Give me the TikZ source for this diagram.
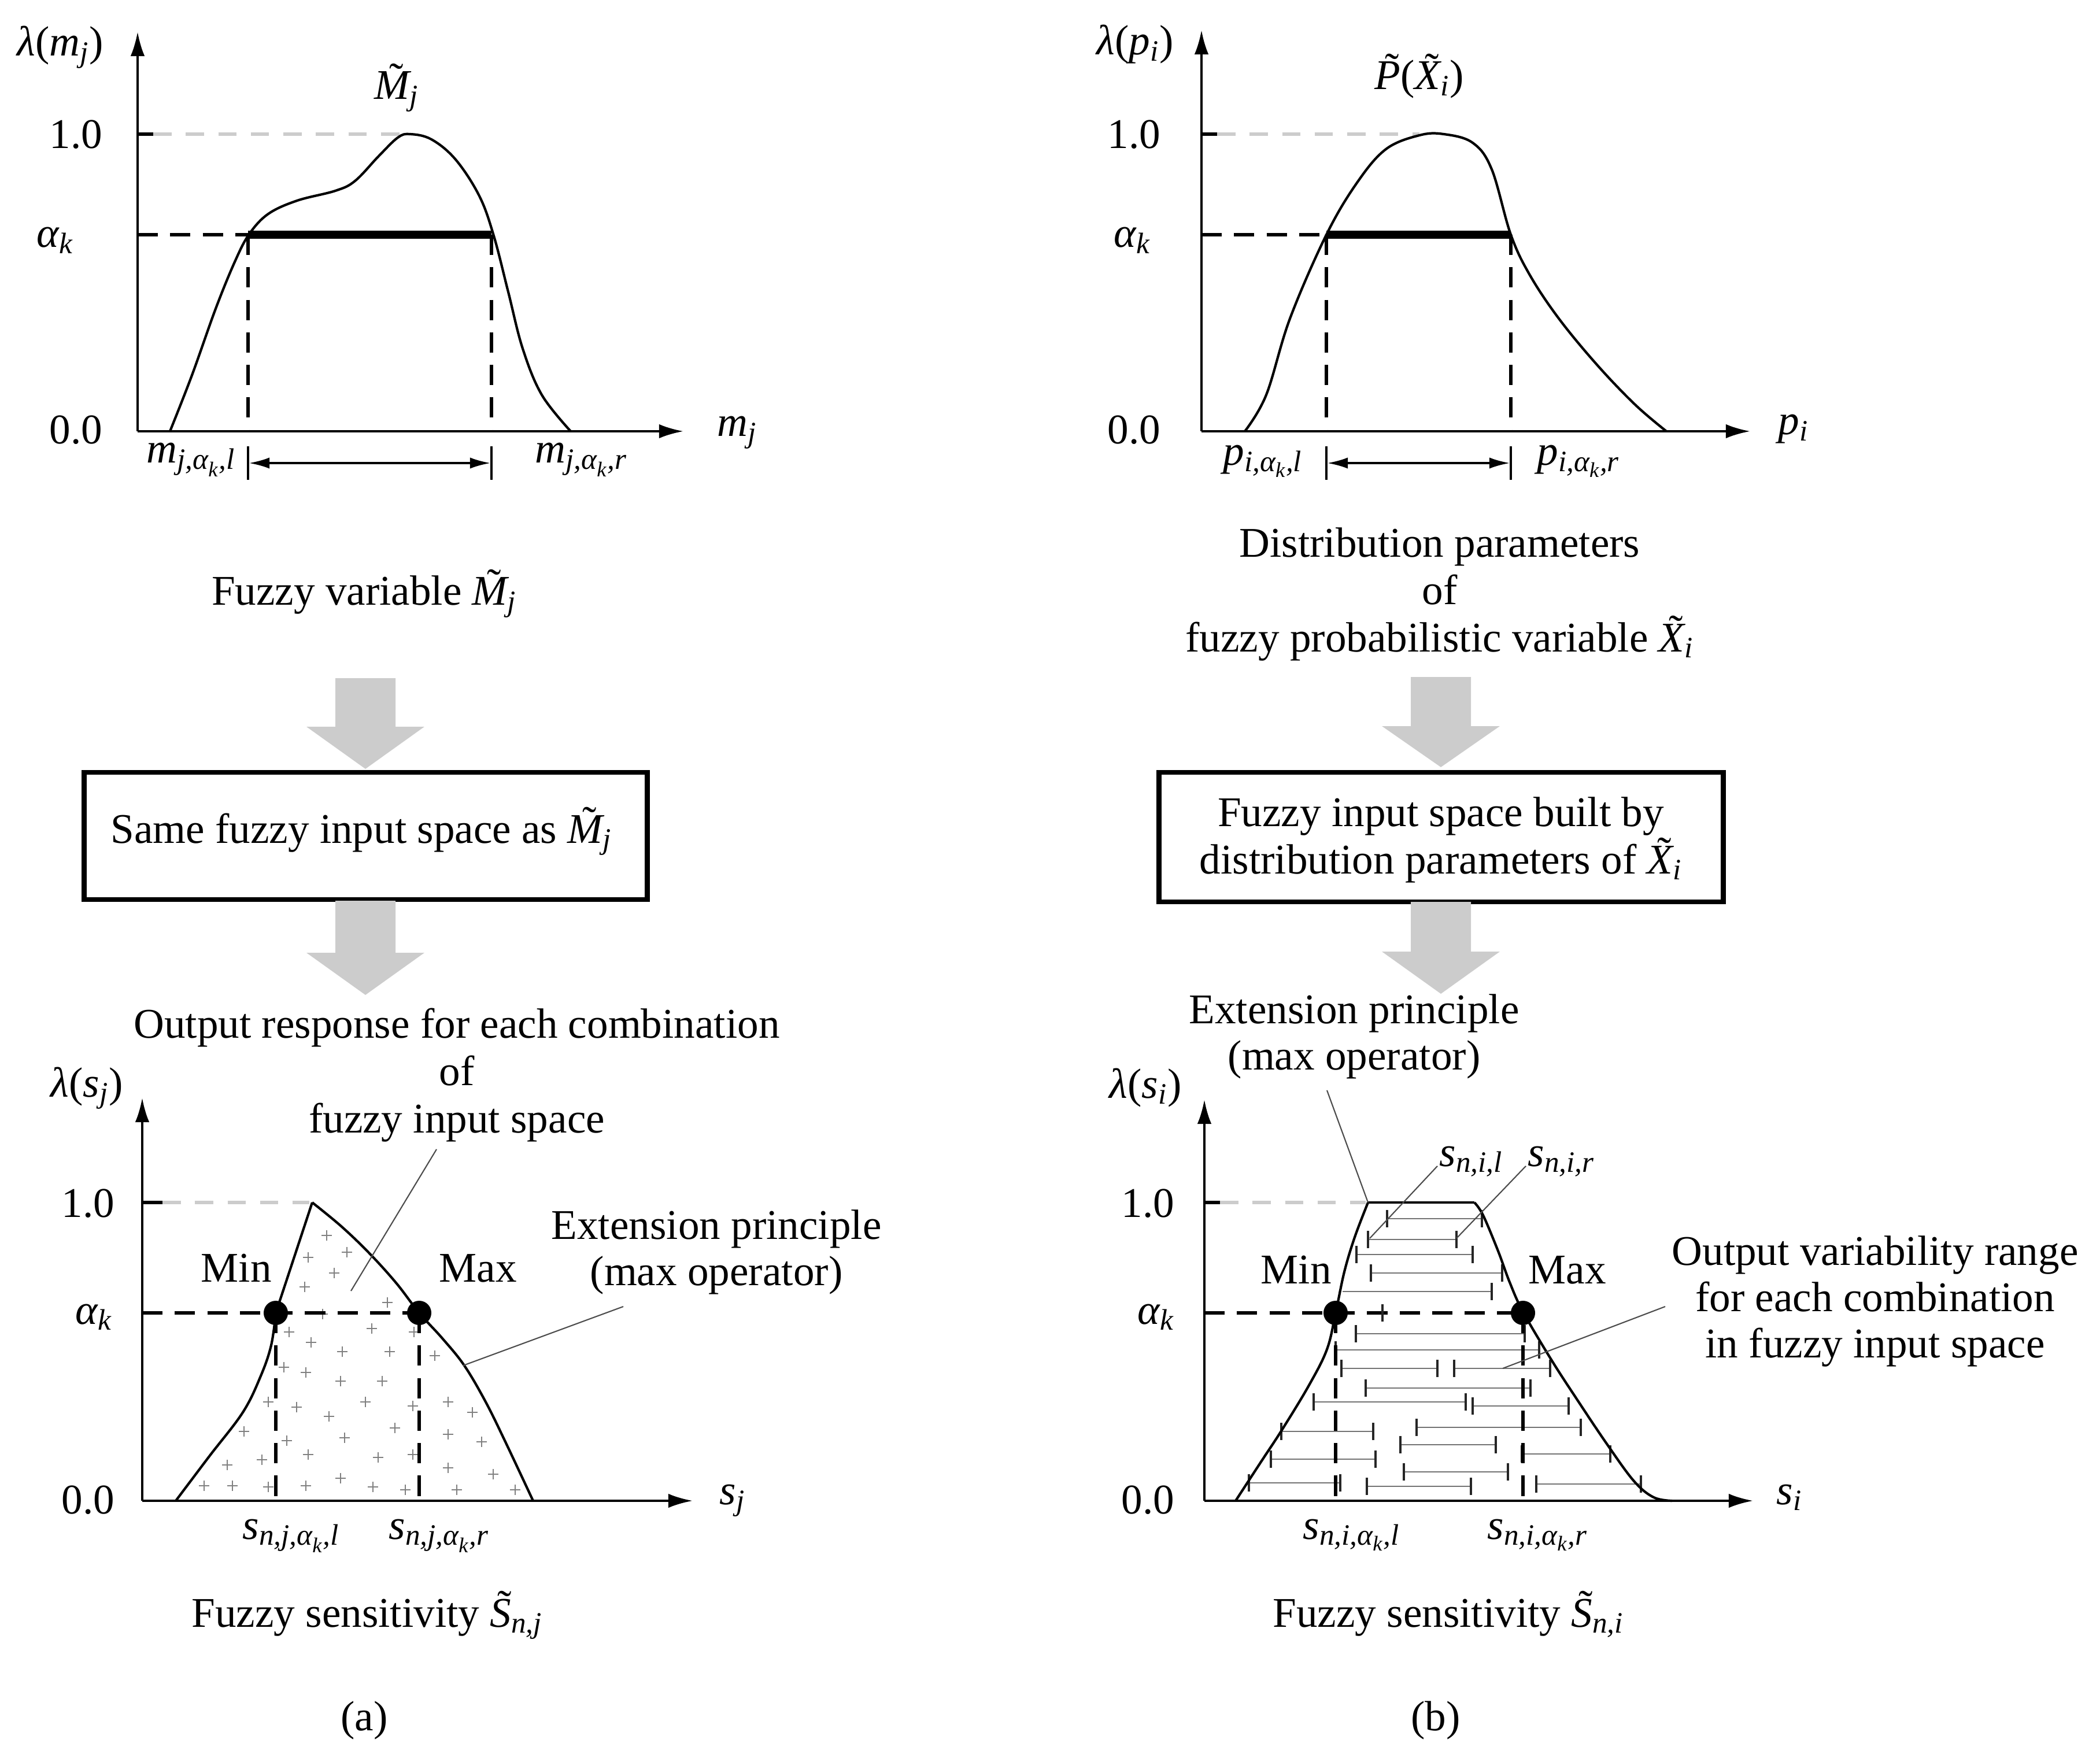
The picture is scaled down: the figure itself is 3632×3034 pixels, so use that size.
\documentclass[tikz,border=0pt]{standalone}
\usepackage{amsmath}
\usepackage{fontspec}
\setmainfont{Liberation Serif}
\usetikzlibrary{arrows.meta}
\newcommand\fs{\fontsize{20.8}{23.3}\selectfont}
\newcommand\iv[1]{\textit{#1}}
\newsavebox\tlbox
\newcommand\tl[1]{\sbox\tlbox{\itshape #1}\rlap{\hbox to \wd\tlbox{\hss\hspace{0.2em}\raisebox{0.17em}{\upshape ˜}\hss}}\usebox\tlbox}
\newcommand\bigarrow[4]{\fill[mygarrow] (#1-52,#2) -- (#1+52,#2) -- (#1+52,#3) -- (#1+102,#3) -- (#1,#4) -- (#1-102,#3) -- (#1-52,#3) -- cycle;}
\tikzset{
  lbl/.style={inner sep=0pt, font=\fs},
  myaxis/.style={line width=1.2pt, -{Latex[length=12pt,width=7pt]}},
  mycurve/.style={line width=1.2pt, line join=round},
  mycut/.style={line width=4pt},
  bdash/.style={line width=1.8pt, dash pattern=on 10pt off 6pt},
  gdash/.style={line width=1.7pt, black!20, dash pattern=on 9pt off 7pt},
  ytick/.style={line width=1.7pt},
  mydim/.style={line width=0.9pt, {Latex[length=10pt,width=5.5pt]}-{Latex[length=10pt,width=5.5pt]}},
  dimtick/.style={line width=0.9pt},
  mybox/.style={draw, line width=2.5pt, inner sep=0pt},
  mygarrow/.style={fill=black!20, draw=none},
  leader/.style={line width=0.6pt, black!70},
  ibar/.style={line width=0.7pt, black!55},
  itick/.style={line width=1pt, black!85},
  mydot/.style={fill=black},
  myplus/.style={line width=0.5pt, black!50},
}
\begin{document}
\begin{tikzpicture}[x=0.01cm,y=-0.01cm]
\useasboundingbox (0,0) rectangle (3632,3034);
\fill[white] (0,0) rectangle (3632,3034);

% ================= (a) top plot =================
\coordinate (tlO) at (238,746);
\draw[ytick] (238,232) -- (265,232);
\draw[gdash] (265,232) -- (700,232);
\draw[bdash] (238,406) -- (429,406);
\draw[bdash] (429,406) -- (429,746);
\draw[bdash] (850,406) -- (850,746);
\draw[mycurve] plot[smooth, tension=0.6] coordinates {(294,746) (332,649) (373,534) (406,453) (431,405) (464,370) (514,347) (580,330) (614,313) (655,270) (688,238) (709,232) (746,241) (788,276) (829,339) (854,408) (879,505) (904,603) (937,683) (987,746)};
\draw[mycut] (429,406) -- (850,406);
\draw[myaxis] (tlO) -- (238,55);
\draw[myaxis] (tlO) -- (1182,746);
\draw[dimtick] (429,772) -- (429,830);
\draw[dimtick] (850,772) -- (850,830);
\draw[mydim] (431,801) -- (848,801);
\node[lbl, anchor=base west] (tlYl) at (29,97) {\iv{λ}(\iv{m}$_{\iv{j}}$)};
\node[lbl, anchor=base west] (tlMj) at (647,172) {\tl{M}$_{\iv{j}}$};
\node[lbl, anchor=base east] (tl10) at (178,257) {1.0};
\node[lbl, anchor=base east] (tlak) at (128,428) {\iv{α}$_{\iv{k}}$};
\node[lbl, anchor=base east] (tl00) at (178,768) {0.0};
\node[lbl, anchor=base west] (tlXl) at (1240,755) {\iv{m}$_{\iv{j}}$};
\node[lbl, anchor=base west] (tlml) at (253,801) {\iv{m}$_{\iv{j,α}_{\iv{k}}\iv{,l}}$};
\node[lbl, anchor=base west] (tlmr) at (925,801) {\iv{m}$_{\iv{j,α}_{\iv{k}}\iv{,r}}$};
\node[lbl, anchor=base] (tlcap) at (630,1047) {Fuzzy variable \tl{M}$_{\iv{j}}$};

% ================= (a) flow =================
\bigarrow{632}{1173}{1257}{1330}
\node[mybox, minimum width=9.73cm, minimum height=2.2cm] (boxA) at (632.5,1446) {};
\node[lbl, anchor=base] (boxAt) at (625,1458) {Same fuzzy input space as \tl{M}$_{\iv{j}}$};
\bigarrow{632}{1558}{1648}{1721}
\node[lbl, anchor=base] (outA1) at (790,1795) {Output response for each combination};
\node[lbl, anchor=base] (outA2) at (790,1877) {of};
\node[lbl, anchor=base] (outA3) at (790,1959) {fuzzy input space};

% ================= (a) bottom plot =================
\coordinate (blO) at (246,2596);
\draw[ytick] (246,2080) -- (281,2080);
\draw[gdash] (281,2080) -- (535,2080);
\foreach \x/\y in {565/2137, 600/2166, 533/2175, 578/2202, 527/2226, 670/2253, 558/2273, 500/2304, 643/2298, 716/2304, 538/2322, 592/2338, 674/2338, 752/2345, 491/2365, 529/2374, 589/2389, 661/2389, 464/2425, 513/2434, 632/2425, 714/2432, 775/2425, 569/2450, 817/2443, 422/2476, 683/2470, 496/2492, 596/2487, 775/2481, 833/2494, 533/2516, 453/2525, 654/2521, 714/2516, 393/2534, 775/2539, 589/2557, 853/2550, 353/2570, 402/2570, 464/2572, 529/2570, 645/2572, 701/2577, 790/2577, 891/2577}
  {\draw[myplus] (\x-9,\y) -- (\x+9,\y) (\x,\y-9) -- (\x,\y+9);}
\draw[bdash] (246,2271) -- (725,2271);
\draw[bdash] (477,2271) -- (477,2596);
\draw[bdash] (725,2271) -- (725,2596);
\draw[mycurve] plot[smooth, tension=0.6] coordinates {(304,2596) (362,2519) (420,2443) (451,2380) (469,2327) (477,2271)};
\draw[mycurve] (477,2271) -- (540,2080);
\draw[mycurve] plot[smooth, tension=0.6] coordinates {(540,2080) (590,2121) (638,2167) (685,2219) (725,2271) (765,2315) (803,2362) (840,2425) (875,2496) (922,2596)};
\fill[mydot] (477,2271) circle[radius=0.21cm];
\fill[mydot] (725,2271) circle[radius=0.21cm];
\draw[myaxis] (blO) -- (246,1899);
\draw[myaxis] (blO) -- (1198,2596);
\node[lbl, anchor=base west] (blYl) at (87,1897) {\iv{λ}(\iv{s}$_{\iv{j}}$)};
\node[lbl, anchor=base east] (bl10) at (199,2105) {1.0};
\node[lbl, anchor=base east] (blak) at (195,2290) {\iv{α}$_{\iv{k}}$};
\node[lbl, anchor=base east] (bl00) at (199,2618) {0.0};
\node[lbl, anchor=base west] (blXl) at (1244,2602) {\iv{s}$_{\iv{j}}$};
\node[lbl, anchor=base west] (blMin) at (347,2217) {Min};
\node[lbl, anchor=base west] (blMax) at (759,2217) {Max};
\node[lbl, anchor=base west] (blsl) at (419,2662) {\iv{s}$_{\iv{n,j,α}_{\iv{k}}\iv{,l}}$};
\node[lbl, anchor=base west] (blsr) at (672,2662) {\iv{s}$_{\iv{n,j,α}_{\iv{k}}\iv{,r}}$};
\node[lbl, anchor=base] (blE1) at (1239,2143) {Extension principle};
\node[lbl, anchor=base] (blE2) at (1239,2223) {(max operator)};
\coordinate (blL1a) at (755,1988);
\coordinate (blL1b) at (607,2233);
\draw[leader] (blL1a) -- (blL1b);
\coordinate (blL2a) at (1078,2260);
\coordinate (blL2b) at (801,2362);
\draw[leader] (blL2a) -- (blL2b);
\node[lbl, anchor=base] (blcap) at (635,2814) {Fuzzy sensitivity \tl{S}$_{\iv{n,j}}$};
\node[lbl, anchor=base] (capa) at (630,2993) {(a)};

% ================= (b) top plot =================
\coordinate (trO) at (2078,746);
\draw[ytick] (2078,232) -- (2105,232);
\draw[gdash] (2105,232) -- (2455,232);
\draw[bdash] (2078,406) -- (2294,406);
\draw[bdash] (2294,406) -- (2294,746);
\draw[bdash] (2613,406) -- (2613,746);
\draw[mycurve] plot[smooth, tension=0.6] coordinates {(2153,746) (2190,683) (2231,551) (2294,406) (2347,316) (2397,258) (2455,234) (2497,232) (2547,247) (2580,293) (2613,406) (2646,476) (2696,551) (2762,631) (2828,700) (2882,746)};
\draw[mycut] (2294,406) -- (2613,406);
\draw[myaxis] (trO) -- (2078,52);
\draw[myaxis] (trO) -- (3027,746);
\draw[dimtick] (2294,772) -- (2294,830);
\draw[dimtick] (2613,772) -- (2613,830);
\draw[mydim] (2296,801) -- (2611,801);
\node[lbl, anchor=base west] (trYl) at (1896,95) {\iv{λ}(\iv{p}$_{\iv{i}}$)};
\node[lbl, anchor=base west] (trPX) at (2377,155) {\tl{P}(\tl{X}$_{\iv{i}}$)};
\node[lbl, anchor=base east] (tr10) at (2008,257) {1.0};
\node[lbl, anchor=base east] (trak) at (1991,428) {\iv{α}$_{\iv{k}}$};
\node[lbl, anchor=base east] (tr00) at (2008,768) {0.0};
\node[lbl, anchor=base west] (trXl) at (3075,752) {\iv{p}$_{\iv{i}}$};
\node[lbl, anchor=base west] (trpl) at (2115,805) {\iv{p}$_{\iv{i,α}_{\iv{k}}\iv{,l}}$};
\node[lbl, anchor=base west] (trpr) at (2658,805) {\iv{p}$_{\iv{i,α}_{\iv{k}}\iv{,r}}$};
\node[lbl, anchor=base] (trD1) at (2490,964) {Distribution parameters};
\node[lbl, anchor=base] (trD2) at (2490,1046) {of};
\node[lbl, anchor=base] (trD3) at (2490,1127) {fuzzy probabilistic variable \tl{X}$_{\iv{i}}$};

% ================= (b) flow =================
\bigarrow{2492}{1171}{1256}{1327}
\node[mybox, minimum width=9.75cm, minimum height=2.24cm] (boxB) at (2492.5,1448) {};
\node[lbl, anchor=base] (boxBt1) at (2492,1429) {Fuzzy input space built by};
\node[lbl, anchor=base] (boxBt2) at (2492,1511) {distribution parameters of \tl{X}$_{\iv{i}}$};
\bigarrow{2492}{1560}{1646}{1719}
\node[lbl, anchor=base] (brE1) at (2342,1770) {Extension principle};
\node[lbl, anchor=base] (brE2) at (2342,1850) {(max operator)};

% ================= (b) bottom plot =================
\coordinate (brO) at (2083,2596);
\draw[ytick] (2083,2080) -- (2110,2080);
\draw[gdash] (2110,2080) -- (2362,2080);
\foreach \y/\a/\b in {2108/2399/2563, 2144/2366/2519, 2170/2346/2547, 2202/2371/2598, 2307/2345/2637, 2335/2310/2662, 2367/2320/2486, 2367/2515/2681, 2401/2362/2647, 2425/2272/2535, 2432/2547/2713, 2469/2450/2734, 2476/2216/2375, 2499/2422/2587, 2515/2632/2785, 2524/2198/2379, 2546/2428/2608, 2565/2160/2318, 2571/2364/2544, 2567/2657/2838}
  {\draw[ibar] (\a,\y) -- (\b,\y);
   \draw[itick] (\a,\y-15) -- (\a,\y+15) (\b,\y-15) -- (\b,\y+15);}
\draw[ibar] (2322,2234) -- (2580,2234);
\draw[itick] (2580,2219) -- (2580,2249);
\draw[bdash] (2083,2271) -- (2634,2271);
\draw[itick] (2391,2256) -- (2391,2286);
\draw[bdash] (2310,2271) -- (2310,2596);
\draw[bdash] (2634,2271) -- (2634,2596);
\draw[mycurve] plot[smooth, tension=0.6] coordinates {(2137,2596) (2180,2530) (2218,2472) (2264,2396) (2295,2334) (2310,2271) (2325,2200) (2343,2140) (2366,2080)};
\draw[mycurve] (2366,2080) -- (2550,2080);
\draw[mycurve] plot[smooth, tension=0.6] coordinates {(2550,2080) (2565,2102) (2591,2164) (2611,2218) (2634,2269) (2683,2352) (2729,2423) (2780,2499) (2826,2562) (2860,2590) (2892,2596)};
\fill[mydot] (2310,2271) circle[radius=0.21cm];
\fill[mydot] (2634,2271) circle[radius=0.21cm];
\draw[myaxis] (brO) -- (2083,1902);
\draw[myaxis] (brO) -- (3032,2596);
\node[lbl, anchor=base west] (brYl) at (1918,1899) {\iv{λ}(\iv{s}$_{\iv{i}}$)};
\node[lbl, anchor=base east] (br10) at (2032,2105) {1.0};
\node[lbl, anchor=base east] (brak) at (2032,2290) {\iv{α}$_{\iv{k}}$};
\node[lbl, anchor=base east] (br00) at (2032,2618) {0.0};
\node[lbl, anchor=base west] (brXl) at (3072,2602) {\iv{s}$_{\iv{i}}$};
\node[lbl, anchor=base west] (brMin) at (2180,2220) {Min};
\node[lbl, anchor=base west] (brMax) at (2643,2220) {Max};
\node[lbl, anchor=base west] (brsl) at (2253,2662) {\iv{s}$_{\iv{n,i,α}_{\iv{k}}\iv{,l}}$};
\node[lbl, anchor=base west] (brsr) at (2572,2662) {\iv{s}$_{\iv{n,i,α}_{\iv{k}}\iv{,r}}$};
\node[lbl, anchor=base west] (brnl) at (2489,2017) {\iv{s}$_{\iv{n,i,l}}$};
\node[lbl, anchor=base west] (brnr) at (2642,2017) {\iv{s}$_{\iv{n,i,r}}$};
\node[lbl, anchor=base] (brO1) at (3243,2188) {Output variability range};
\node[lbl, anchor=base] (brO2) at (3243,2268) {for each combination};
\node[lbl, anchor=base] (brO3) at (3243,2348) {in fuzzy input space};
\coordinate (brL1a) at (2295,1886);
\coordinate (brL1b) at (2366,2080);
\draw[leader] (brL1a) -- (brL1b);
\coordinate (brL2a) at (2486,2017);
\coordinate (brL2b) at (2369,2142);
\draw[leader] (brL2a) -- (brL2b);
\coordinate (brL3a) at (2639,2017);
\coordinate (brL3b) at (2519,2142);
\draw[leader] (brL3a) -- (brL3b);
\coordinate (brL4a) at (2880,2260);
\coordinate (brL4b) at (2599,2367);
\draw[leader] (brL4a) -- (brL4b);
\node[lbl, anchor=base] (brcap) at (2505,2814) {Fuzzy sensitivity \tl{S}$_{\iv{n,i}}$};
\node[lbl, anchor=base] (capb) at (2483,2993) {(b)};
\end{tikzpicture}
\end{document}
